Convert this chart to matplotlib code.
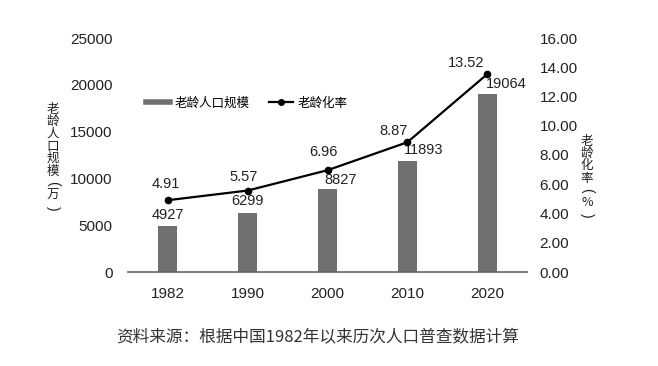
import matplotlib
matplotlib.use("Agg")
import matplotlib.pyplot as plt
from matplotlib.lines import Line2D

plt.rcParams['font.family'] = ['Liberation Sans', 'Noto Sans CJK SC', 'DejaVu Sans']

years = ["1982", "1990", "2000", "2010", "2020"]
elderly_pop = [4927, 6299, 8827, 11893, 19064]
aging_rate = [4.91, 5.57, 6.96, 8.87, 13.52]
left_ticks = [0, 5000, 10000, 15000, 20000, 25000]
right_ticks = [0, 2, 4, 6, 8, 10, 12, 14, 16]

bar_color = "#707070"
text_color = "#222222"

fig = plt.figure(figsize=(6.58, 3.66), dpi=100)
ax = fig.add_axes([128/658, 1-272/366, (527-128)/658, (272-38)/366])
ax2 = ax.twinx()

x = list(range(len(years)))
ax.bar(x, elderly_pop, width=0.24, color=bar_color, zorder=2)
ax2.plot(x, aging_rate, color="black", lw=1.6, marker="o", ms=4.5, zorder=3)

ax.set_xlim(-0.5, 4.5)
ax.set_ylim(0, 25000)
ax2.set_ylim(0, 16)
ax.set_yticks(left_ticks)
ax.set_yticklabels([str(v) for v in left_ticks])
ax2.set_yticks(right_ticks)
ax2.set_yticklabels([f"{v:.2f}" for v in right_ticks])
ax.set_xticks(x)
ax.set_xticklabels(years)

for a in (ax, ax2):
    for s in ("top", "left", "right", "bottom"):
        a.spines[s].set_visible(False)
    a.tick_params(length=0, labelsize=11, labelcolor=text_color)
ax.spines["bottom"].set_visible(True)
ax.spines["bottom"].set_color("#666666")
ax.spines["bottom"].set_linewidth(1.2)
ax.tick_params(axis="y", pad=11)
ax.tick_params(axis="x", pad=11)
ax2.tick_params(axis="y", pad=9)

bar_offsets = [(0, 11), (0, 12), (13, 9), (16, 11), (19, 10)]
for i, v in enumerate(elderly_pop):
    ax.annotate(str(v), (x[i], v), xytext=bar_offsets[i], textcoords="offset pixels",
                ha="center", va="center", fontsize=10.5, color=text_color, zorder=4)

line_offsets = [(-2, 16), (-4, 14), (-4, 18), (-14, 11), (-21, 11)]
for i, v in enumerate(aging_rate):
    ax2.annotate(f"{v:.2f}", (x[i], v), xytext=line_offsets[i], textcoords="offset pixels",
                 ha="center", va="center", fontsize=10.5, color=text_color, zorder=4)

handles = [Line2D([0], [0], color=bar_color, lw=4),
           Line2D([0], [0], color="black", lw=1.6, marker="o", ms=4)]
fig.legend(handles, ["老龄人口规模", "老龄化率"], loc="center left",
           bbox_to_anchor=(146/658, 1-103/366), ncol=2, frameon=False,
           prop={"family": ["Noto Sans CJK SC"], "size": 9},
           handlelength=1.9, handletextpad=0.35, columnspacing=1.6,
           borderpad=0, borderaxespad=0)


def vertical_label(cx, top, chars, step=12.4):
    for k, ch in enumerate(chars):
        if ch in "()":
            fig.text(cx/658, 1-(top + k*step)/366, ch, ha="center", va="center",
                     rotation=-90, family=["Liberation Sans"], fontsize=10, color=text_color)
        else:
            fig.text(cx/658, 1-(top + k*step)/366, ch, ha="center", va="center",
                     family=["Noto Sans CJK SC"], fontsize=9, color=text_color)


vertical_label(53, 109, list("老龄人口规模") + ["(", "万", ")"])
vertical_label(587, 141, list("老龄化率") + ["(", "%", ")"])

fig.text(318/658, 1-338/366, "资料来源：根据中国1982年以来历次人口普查数据计算",
         ha="center", va="center", family=["Noto Sans CJK SC"], fontsize=12, color="#333333")

fig.savefig("out.png", dpi=100)
